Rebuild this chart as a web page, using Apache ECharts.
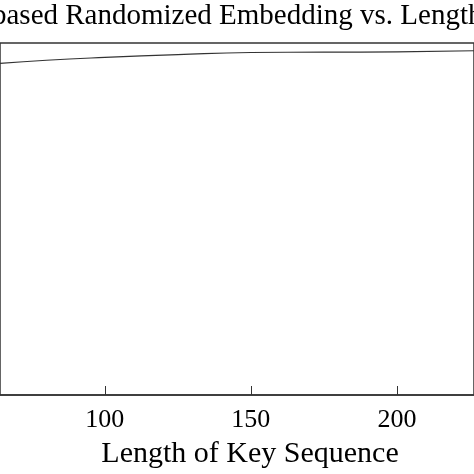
<!DOCTYPE html>
<html><head><meta charset="utf-8">
<script src="https://cdn.jsdelivr.net/npm/echarts@6/dist/echarts.min.js"></script>
<style>html,body{margin:0;padding:0;background:#fff}#c{width:474px;height:474px}</style>
</head><body><div id="c"></div>
<script>
const xValues = [64.1, 80, 100, 125, 150, 175, 200, 226.4];
const yValues = [0.942, 0.951, 0.959, 0.967, 0.973, 0.974, 0.975, 0.978];
const tickValues = [100, 150, 200];
const chart = echarts.init(document.getElementById('c'));
chart.setOption({
  animation: false,
  graphic: [{type:'text', left: -8, top: 2, z: 10,
    style:{text:'based Randomized Embedding vs. Length of Key Sequence', font:'29px "Liberation Serif"', fill:'#000'}}],
  grid: {left: 0, right: 0, top: 43, bottom: 66, show: true, borderColor:'#333', borderWidth:1.5},
  xAxis: {type:'value', min:64.1, max:226.4, name:'Length of Key Sequence', nameLocation:'middle', nameGap:44,
    nameTextStyle:{fontFamily:'Liberation Serif', fontSize:30, color:'#000', padding:[0,0,0,26]},
    axisLine:{show:true, onZero:false, lineStyle:{color:'#333', width:1.5}},
    axisTick:{show:true, inside:true, length:9, customValues: tickValues, lineStyle:{color:'#333'}},
    axisLabel:{fontFamily:'Liberation Serif', fontSize:26, color:'#000', margin:12, customValues: tickValues},
    splitLine:{show:false}},
  yAxis: {type:'value', min:0, max:1, axisLabel:{show:false}, axisLine:{show:false}, axisTick:{show:false}, splitLine:{show:false}},
  series: [{type:'line', data: xValues.map((x,i)=>[x,yValues[i]]), showSymbol:false, smooth:true,
    lineStyle:{color:'#333', width:1.2}}]
});
</script></body></html>
